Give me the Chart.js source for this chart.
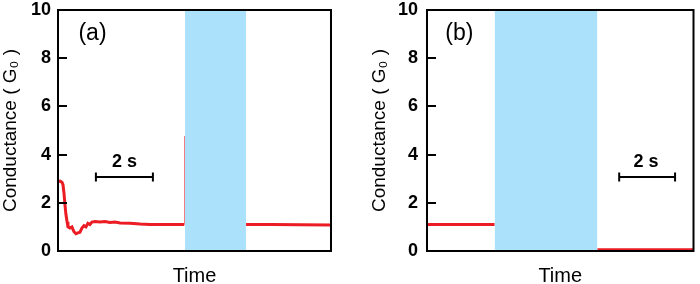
<!DOCTYPE html>
<html>
<head>
<meta charset="utf-8">
<script src="https://cdn.jsdelivr.net/npm/chart.js@4.4.0/dist/chart.umd.min.js"></script>
<style>
  html, body { margin: 0; padding: 0; background: #fff; }
  #wrap { position: relative; width: 700px; height: 284px; }
  canvas { position: absolute; top: 0; }
</style>
</head>
<body>
<div id="wrap">
  <canvas id="chartA" width="350" height="284" style="left:0"></canvas>
  <canvas id="chartB" width="350" height="284" style="left:350px"></canvas>
</div>
<script>
// time in seconds, conductance in G0 (null = hidden under the shaded band)
const timeA = [0, 0.07, 0.14, 0.175, 0.21, 0.245, 0.28, 0.32, 0.35, 0.42, 0.49, 0.56, 0.63, 0.70, 0.77,
  0.84, 0.91, 0.98, 1.05, 1.12, 1.19, 1.30, 1.47, 1.65, 1.82, 2.0, 2.18, 2.53, 2.88, 3.23, 3.58, 3.93,
  4.43, 4.445, 4.45, 5.5, 6.6, 7.5, 8.5, 9.58];
const condA = [2.88, 2.9, 2.85, 2.75, 2.4, 1.9, 1.5, 1.2, 1.0, 0.95, 1.0, 0.8, 0.72, 0.75, 0.78,
  0.95, 1.05, 1.0, 1.15, 1.1, 1.2, 1.22, 1.2, 1.22, 1.18, 1.2, 1.16, 1.15, 1.12, 1.1, 1.1, 1.1,
  1.1, 4.77, 1.1, null, 1.1, 1.1, 1.09, 1.08];
const spikeA = 32; // index where the short switching spike starts

const timeB = [0, 1.2, 2.42, 4.0, 6.1, 8.0, 9.54];
const condB = [1.1, 1.1, 1.1, null, 0.05, 0.05, 0.05];

// shaded intervals [start, end] in seconds
const bandA = [4.456, 6.596];
const bandB = [2.42, 6.10];

// 2 s scale bars [start, end] and height
const scaleBarA = [1.33, 3.33];
const scaleBarB = [6.88, 8.88];
const scaleBarY = 3.07;

const yTicks = [0, 2, 4, 6, 8, 10];

const FONT = '"Liberation Sans", Arial, Helvetica, sans-serif';
Chart.defaults.font.family = FONT;
Chart.defaults.color = '#000';

const RED = 'rgb(236,28,36)';
const PINK = 'rgb(240,120,125)';
const BLUE = 'rgb(171,225,250)';

const framePlugin = {
  id: 'frame',
  afterDatasetsDraw(chart, args, opts) {
    const { ctx, chartArea: a, scales } = chart;
    ctx.save();
    // text labels at data coordinates
    (opts.texts || []).forEach(t => {
      ctx.font = t.font;
      ctx.fillStyle = '#000';
      ctx.textAlign = 'center';
      ctx.textBaseline = 'middle';
      ctx.fillText(t.text, scales.x.getPixelForValue(t.x), scales.y.getPixelForValue(t.y));
    });
    // box
    ctx.strokeStyle = '#000';
    ctx.lineWidth = 2;
    ctx.strokeRect(a.left, a.top, a.right - a.left, a.bottom - a.top);
    // inward ticks
    scales.y.ticks.forEach(tk => {
      if (tk.value <= 0 || tk.value >= 10) return;
      const py = Math.round(scales.y.getPixelForValue(tk.value));
      ctx.beginPath();
      ctx.moveTo(a.left, py);
      ctx.lineTo(a.left + 9, py);
      ctx.stroke();
    });
    ctx.restore();
  }
};

function makePanel(id, t, g, band, bar, xMax, spike, cfg) {
  const trace = t.map((x, i) => ({ x: x, y: g[i] }));
  const isSpike = c => spike >= 0 && (c.p0DataIndex === spike || c.p0DataIndex === spike + 1);
  new Chart(document.getElementById(id), {
    type: 'line',
    data: {
      datasets: [
        {
          data: [{ x: band[0], y: 10 }, { x: band[1], y: 10 }],
          borderWidth: 0, pointRadius: 0, fill: 'origin', backgroundColor: BLUE
        },
        {
          data: trace, borderColor: RED, borderWidth: 3, pointRadius: 0,
          tension: 0, spanGaps: false, fill: false,
          segment: {
            borderWidth: c => isSpike(c) ? 1 : 3,
            borderColor: c => isSpike(c) ? PINK : RED
          }
        },
        {
          data: [{ x: bar[0], y: scaleBarY }, { x: bar[1], y: scaleBarY }],
          borderColor: '#000', borderWidth: 2, pointStyle: 'line', rotation: 90,
          pointRadius: 4.5, pointBorderWidth: 2, pointBorderColor: '#000', fill: false
        }
      ]
    },
    options: {
      responsive: false,
      animation: false,
      layout: { padding: { left: 0, right: cfg.right, top: 10, bottom: 0 } },
      plugins: {
        legend: { display: false },
        tooltip: { enabled: false },
        frame: { texts: cfg.texts }
      },
      scales: {
        x: {
          type: 'linear', min: 0, max: xMax,
          grid: { display: false }, border: { display: false },
          ticks: { display: false },
          title: { display: true, text: 'Time', font: { size: 20, lineHeight: 1 }, padding: { top: 0, bottom: -2 } },
          afterFit(s) { s.height = 33; }
        },
        y: {
          min: 0, max: 10,
          afterBuildTicks(s) { s.ticks = yTicks.map(v => ({ value: v })); },
          grid: {
            display: true, drawOnChartArea: false, drawTicks: true,
            tickLength: cfg.tickGap, tickColor: 'rgba(0,0,0,0)'
          },
          border: { display: false },
          ticks: { font: { size: 18, weight: 'bold', lineHeight: 1 }, padding: 0 },
          title: {
            display: true, text: 'Conductance ( G\u2080 )',
            font: { size: 19, lineHeight: 1 }, padding: { top: cfg.titlePad, bottom: 0 }
          },
          afterFit(s) { s.width = cfg.axisW; }
        }
      }
    },
    plugins: [framePlugin]
  });
}

makePanel('chartA', timeA, condA, bandA, scaleBarA, 9.58, spikeA, {
  right: 19, axisW: 58, tickGap: 7, titlePad: 1,
  texts: [
    { text: '(a)', x: 1.21, y: 9.0, font: '23px ' + FONT },
    { text: '2 s', x: 2.33, y: 3.71, font: 'bold 18px ' + FONT }
  ]
});

makePanel('chartB', timeB, condB, bandB, scaleBarB, 9.54, -1, {
  right: 1, axisW: 77, tickGap: 9, titlePad: 20,
  texts: [
    { text: '(b)', x: 1.16, y: 9.0, font: '23px ' + FONT },
    { text: '2 s', x: 7.84, y: 3.71, font: 'bold 18px ' + FONT }
  ]
});
</script>
</body>
</html>
